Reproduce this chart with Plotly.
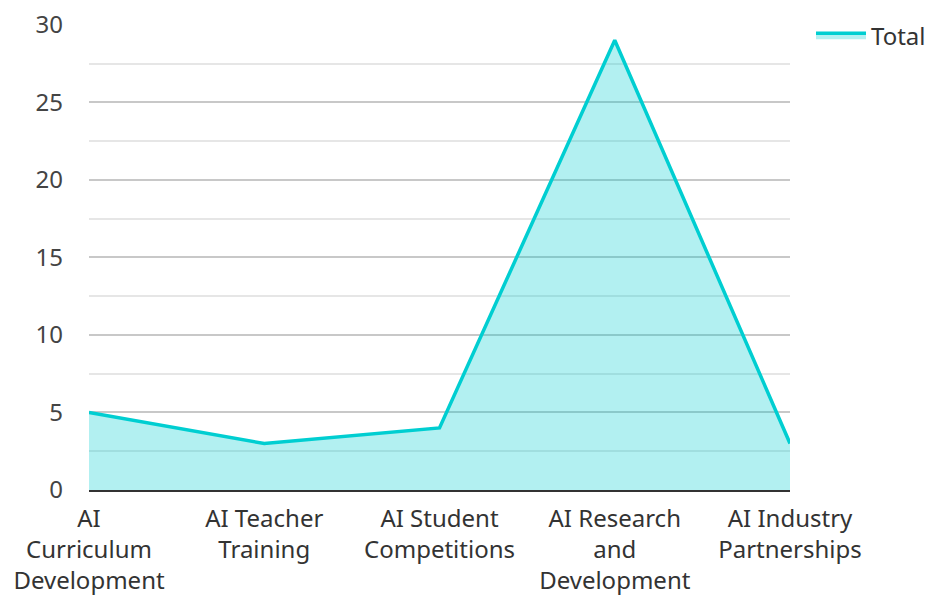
import plotly.graph_objects as go

categories = ["AI<br>Curriculum<br>Development", "AI Teacher<br>Training", "AI Student<br>Competitions",
              "AI Research<br>and<br>Development", "AI Industry<br>Partnerships"]
totals = [5, 3, 4, 29, 3]
positions = list(range(len(categories)))

fig = go.Figure()
fig.add_trace(go.Scatter(
    x=positions, y=totals, name="Total", mode="lines",
    line=dict(color="#00CED1", width=3.5),
    fill="tozeroy", fillcolor="rgba(0,206,209,0.3)",
))

font = "Noto Sans"
fig.update_layout(
    width=931, height=597,
    margin=dict(l=89, r=141, t=24, b=107),
    plot_bgcolor="white", paper_bgcolor="white",
    font=dict(family=font, size=24, color="#333333"),
    showlegend=True,
    legend=dict(xref="container", yref="container", x=1.0, y=0.978,
                xanchor="right", yanchor="top", font=dict(size=24, color="#333333"),
                bgcolor="rgba(0,0,0,0)", itemwidth=50),
    xaxis=dict(
        tickmode="array", tickvals=positions, ticktext=categories,
        range=[0, 4], showgrid=False, zeroline=False,
        showline=True, linecolor="#333333", linewidth=2,
        ticks="", ticklabelstandoff=6,
        tickfont=dict(size=24, color="#333333"), automargin=False,
    ),
    yaxis=dict(
        range=[0, 30.05], dtick=5, tick0=0,
        showgrid=True, gridcolor="#c8c8c8", gridwidth=1.5,
        zeroline=False, showline=False, ticks="",
        ticklabelstandoff=25, automargin=False,
        tickfont=dict(size=24, color="#444444"),
        minor=dict(dtick=2.5, showgrid=True, gridcolor="#e6e6e6", gridwidth=1.5),
    ),
)
fig.write_html("out.html", config={"displayModeBar": False},
               post_script="document.body.style.margin='0';document.body.style.overflow='hidden';")
